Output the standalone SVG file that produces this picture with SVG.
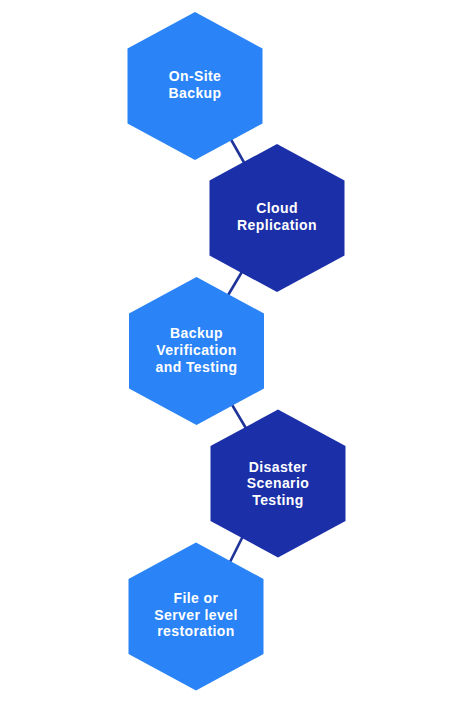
<svg xmlns="http://www.w3.org/2000/svg" width="474" height="705" viewBox="0 0 474 705">
<style>
.light{fill:#2a84f8}
.dark{fill:#1b2fa8}
.conn{stroke:#1f3399;stroke-width:2.6;fill:none}
text{font-family:"Liberation Sans",Arial,sans-serif;font-weight:bold;font-size:14px;fill:#ffffff;text-anchor:middle;letter-spacing:0.4px}
</style>
<defs>
<polygon id="hex" points="0,-74 67.5,-37.5 67.5,37.5 0,74 -67.5,37.5 -67.5,-37.5"/>
</defs>
<rect width="474" height="705" fill="#ffffff"/>
<g id="connectors">
<line class="conn" x1="229" y1="136" x2="246" y2="166"/>
<line class="conn" x1="243" y1="270" x2="227" y2="297"/>
<line class="conn" x1="231" y1="403" x2="247" y2="430"/>
<line class="conn" x1="243" y1="536" x2="229" y2="564"/>
</g>
<g id="node1">
<use href="#hex" class="light" transform="translate(195,86)"/>
<text x="195" y="81">On-Site</text>
<text x="195" y="97.5">Backup</text>
</g>
<g id="node2">
<use href="#hex" class="dark" transform="translate(277,218)"/>
<text x="277" y="213.3">Cloud</text>
<text x="277" y="229.5">Replication</text>
</g>
<g id="node3">
<use href="#hex" class="light" transform="translate(196.5,351)"/>
<text x="196.5" y="338.3">Backup</text>
<text x="196.5" y="355">Verification</text>
<text x="196.5" y="371.7">and Testing</text>
</g>
<g id="node4">
<use href="#hex" class="dark" transform="translate(278,483.5)"/>
<text x="278" y="471.7">Disaster</text>
<text x="278" y="488.3">Scenario</text>
<text x="278" y="505">Testing</text>
</g>
<g id="node5">
<use href="#hex" class="light" transform="translate(196,616.5)"/>
<text x="196" y="602.7">File or</text>
<text x="196" y="619.5">Server level</text>
<text x="196" y="636.3">restoration</text>
</g>
</svg>
